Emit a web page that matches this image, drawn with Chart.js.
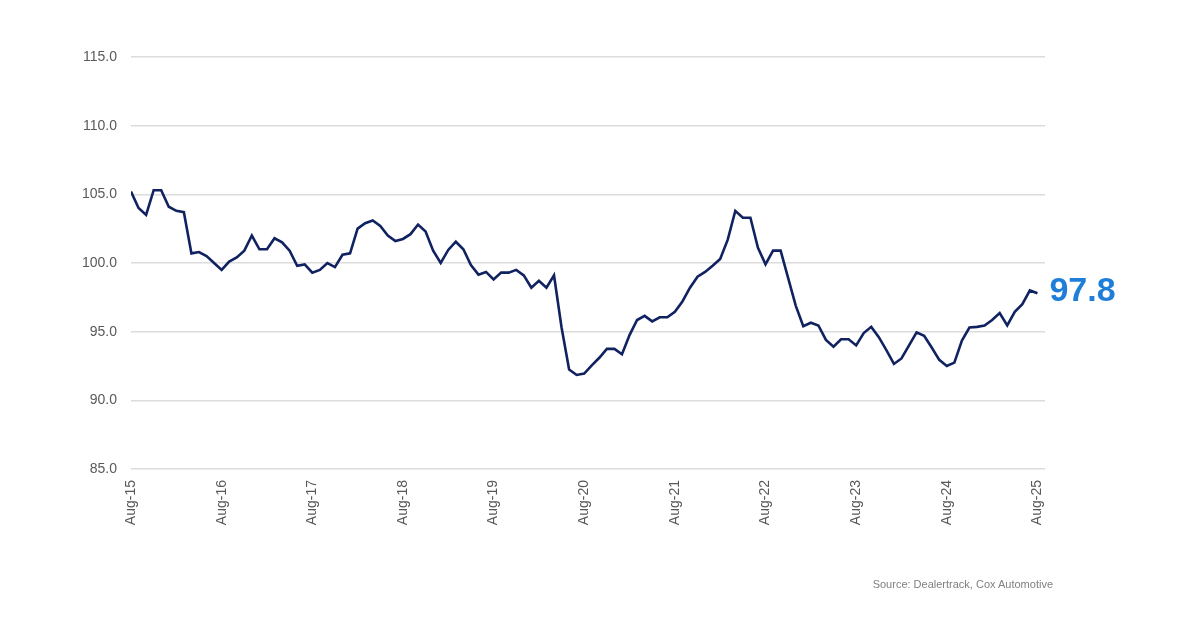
<!DOCTYPE html>
<html>
<head>
<meta charset="utf-8">
<script src="https://cdn.jsdelivr.net/npm/chart.js@4"></script>
<style>
    html, body { margin: 0; padding: 0; background: #ffffff; }
    #wrap { position: relative; width: 1200px; height: 630px; }
    #source {
        position: absolute; right: 147px; top: 578px;
        font: 11px "Liberation Sans", Arial, sans-serif; color: #7f7f7f;
    }
</style>
</head>
<body>
<div id="wrap">
    <canvas id="indexChart" width="1200" height="630"></canvas>
    <div id="source">Source: Dealertrack, Cox Automotive</div>
</div>
<script>
// ===============================
// DATA (monthly, Aug-15 .. Aug-25)
// ===============================
const xTickLabels = ["Aug-15", "Aug-16", "Aug-17", "Aug-18", "Aug-19", "Aug-20",
                     "Aug-21", "Aug-22", "Aug-23", "Aug-24", "Aug-25"];

const indexValues = [
    105.2, 104.0, 103.5, 105.3, 105.3, 104.1, 103.8, 103.7, 100.7, 100.8, 100.5, 100.0,
    99.5, 100.1, 100.4, 100.9, 102.0, 101.0, 101.0, 101.8, 101.5, 100.9, 99.8, 99.9,
    99.3, 99.5, 100.0, 99.7, 100.6, 100.7, 102.5, 102.9, 103.1, 102.7, 102.0, 101.6,
    101.75, 102.1, 102.8, 102.3, 100.9, 100.0, 100.95, 101.55, 101.0, 99.85, 99.15, 99.35,
    98.8, 99.3, 99.3, 99.5, 99.1, 98.2, 98.7, 98.2, 99.1, 95.3, 92.25, 91.85,
    91.95, 92.55, 93.1, 93.75, 93.75, 93.35, 94.75, 95.85, 96.15, 95.75, 96.05, 96.05,
    96.45, 97.2, 98.2, 99.0, 99.35, 99.8, 100.3, 101.7, 103.8, 103.3, 103.3, 101.1,
    99.9, 100.9, 100.9, 98.9, 96.9, 95.4, 95.65, 95.45, 94.4, 93.9, 94.45, 94.45,
    94.0, 94.9, 95.35, 94.6, 93.65, 92.65, 93.05, 94.0, 94.95, 94.7, 93.85, 92.95,
    92.5, 92.75, 94.35, 95.3, 95.35, 95.45, 95.85, 96.35, 95.45, 96.45, 97.0, 98.0,
    97.8
];

const yTicks = { min: 85, max: 115, step: 5 };

const FONT = "'Liberation Sans', Arial, sans-serif";

// ===============================
// LAST VALUE LABEL
// ===============================
const lastValueLabel = {
    id: "lastValueLabel",
    afterDatasetsDraw(chart) {
        const meta = chart.getDatasetMeta(0);
        const pt = meta.data[meta.data.length - 1];
        const ctx = chart.ctx;
        ctx.save();
        ctx.font = "bold 34px " + FONT;
        ctx.fillStyle = "#1f7fd8";
        ctx.textAlign = "left";
        ctx.textBaseline = "alphabetic";
        ctx.fillText(indexValues[indexValues.length - 1].toFixed(1), pt.x + 12, pt.y + 8);
        ctx.restore();
    }
};

// ===============================
// CHART
// ===============================
new Chart(document.getElementById("indexChart"), {
    type: "line",
    data: {
        datasets: [{
            data: indexValues.map((v, i) => ({ x: i, y: v })),
            borderColor: "#102260",
            borderWidth: 2.6,
            pointRadius: 0,
            tension: 0,
            fill: false
        }]
    },
    options: {
        responsive: false,
        animation: false,
        layout: { padding: { left: 0, top: 57, right: 155, bottom: 0 } },
        plugins: { legend: { display: false }, tooltip: { enabled: false } },
        scales: {
            x: {
                type: "linear",
                min: 0,
                max: indexValues.length,
                grid: { display: false },
                border: { display: false },
                afterFit(scale) { scale.height = 161; },
                ticks: {
                    stepSize: 12,
                    includeBounds: false,
                    autoSkip: false,
                    minRotation: 90,
                    maxRotation: 90,
                    padding: 3,
                    color: "#595959",
                    font: { family: FONT, size: 14 },
                    callback: v => (v % 12 === 0 ? xTickLabels[v / 12] : "")
                }
            },
            y: {
                min: yTicks.min,
                max: yTicks.max,
                grid: { color: "#dcdcdc", lineWidth: 1.5, drawTicks: false },
                border: { display: false },
                afterFit(scale) { scale.width = 131; },
                ticks: {
                    stepSize: yTicks.step,
                    padding: 14,
                    color: "#595959",
                    font: { family: FONT, size: 14 },
                    callback: v => v.toFixed(1)
                }
            }
        }
    },
    plugins: [lastValueLabel]
});
</script>
</body>
</html>
